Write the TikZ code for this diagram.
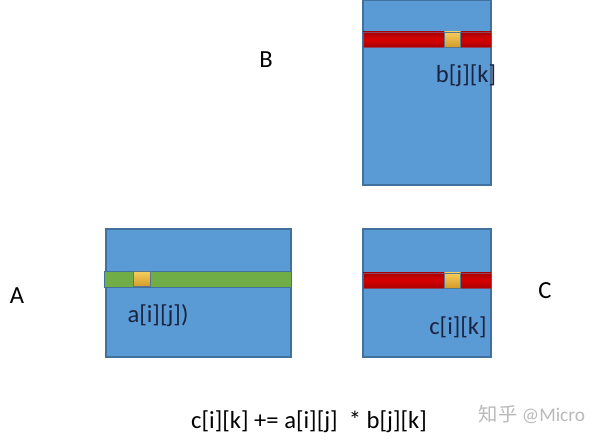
\documentclass[tikz,border=0pt]{standalone}
\usepackage{fontspec}
\setmainfont{Carlito}
\newfontfamily\cjk{Noto Sans CJK SC}
\definecolor{matblue}{HTML}{5B9BD5}
\definecolor{matedge}{HTML}{41719C}
\definecolor{rowgreen}{HTML}{70AD47}
\definecolor{labelnavy}{HTML}{1A2440}
\definecolor{goldtop}{RGB}{245,205,95}
\definecolor{goldbot}{RGB}{212,155,40}
\definecolor{redmid}{RGB}{215,0,0}
\definecolor{redrim}{RGB}{170,0,0}
\tikzset{
  matrixbox/.style={draw=matedge, fill=matblue, line width=0.6pt, inner sep=0pt},
  redrow/.style={draw=matedge!60!red, line width=0.4pt, inner sep=0pt,
    top color=redrim, bottom color=redrim, middle color=redmid},
  greenrow/.style={draw=matedge, fill=rowgreen, line width=0.4pt, inner sep=0pt},
  elem/.style={draw=matedge!60!gray, line width=0.3pt, inner sep=0pt,
    top color=goldtop, bottom color=goldbot,
    minimum width=0.33cm, minimum height=0.3cm},
  idx/.style={text=labelnavy, font=\fontsize{14}{16}\selectfont, inner sep=0pt},
  tag/.style={text=black, font=\fontsize{14}{16}\selectfont, inner sep=0pt}
}
\begin{document}
\begin{tikzpicture}[x=0.02cm, y=-0.02cm]
  \useasboundingbox (0,0) rectangle (600,442);

  % matrix B
  \node [matrixbox, minimum width=2.56cm, minimum height=3.7cm] (matB) at (427,92.5) {};
  \node [redrow, minimum width=2.56cm, minimum height=0.3cm] (rowB) at (427,39.5) {};
  \node [elem] (elemB) at (452.5,39.5) {};
  \node [idx] (labB) at (466,76) {b[j][k]};
  \node [tag] (nameB) at (266,60) {B};

  % matrix A
  \node [matrixbox, minimum width=3.7cm, minimum height=2.56cm] (matA) at (198.5,293) {};
  \node [greenrow, minimum width=3.74cm, minimum height=0.32cm] (rowA) at (197.5,279) {};
  \node [elem] (elemA) at (142,279) {};
  \node [idx] (labA) at (158,316) {a[i][j])};
  \node [tag] (nameA) at (17,296) {A};

  % matrix C
  \node [matrixbox, minimum width=2.56cm, minimum height=2.56cm] (matC) at (427,293) {};
  \node [redrow, minimum width=2.56cm, minimum height=0.3cm] (rowC) at (427,280.5) {};
  \node [elem] (elemC) at (452.5,280.5) {};
  \node [idx] (labC) at (458,327) {c[i][k]};
  \node [tag] (nameC) at (545,291) {C};

  % formula and mark
  \node [tag] (rule) at (309,422) {c[i][k] += a[i][j] \ * b[j][k]};
  \node [text=gray!55, font=\fontsize{11}{13}\selectfont, inner sep=0pt] (mark) at (532,414) {{\cjk 知乎} @Micro};
\end{tikzpicture}
\end{document}
